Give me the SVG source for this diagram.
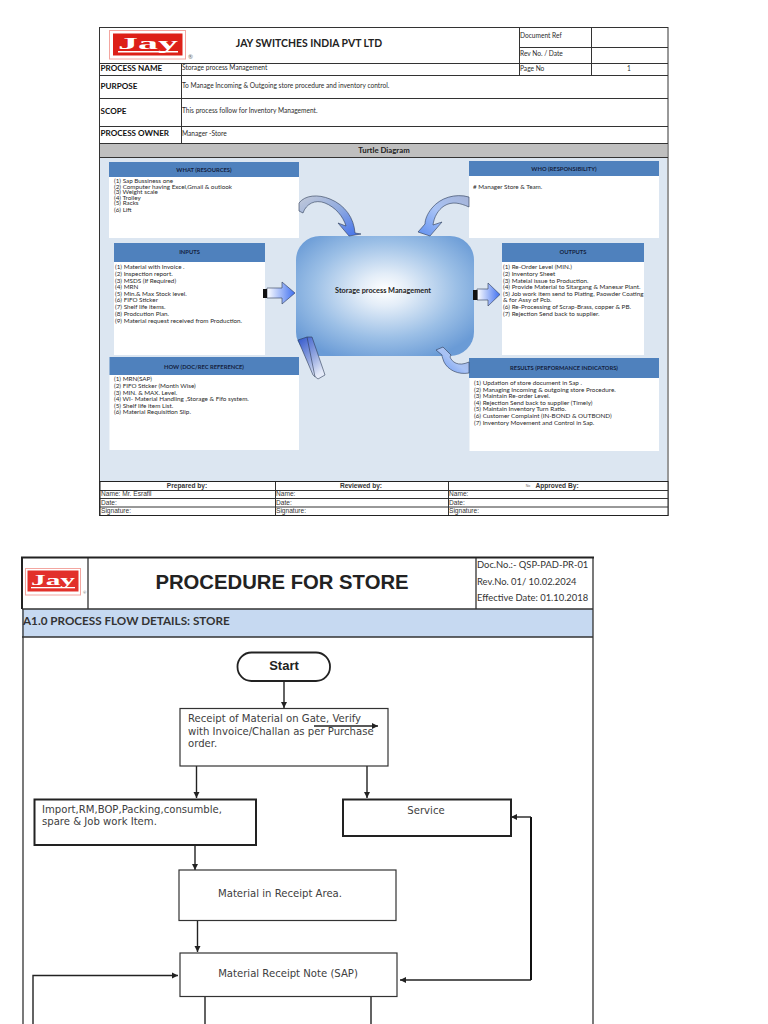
<svg xmlns="http://www.w3.org/2000/svg" width="768" height="1024" viewBox="0 0 768 1024">
<style>
.c{font-family:Lato,"Open Sans",sans-serif;font-size:6.600px;fill:#2c2c2c}
.t{font-family:Lato,"Open Sans",sans-serif;font-size:6.300px;fill:#2a2a2a}
.h{font-family:Lato,"Open Sans",sans-serif;font-size:5.800px;font-weight:700;fill:#14213d;text-anchor:middle}
.l{font-family:Lato,"Open Sans",sans-serif;font-size:8.100px;font-weight:700;fill:#111}
.s{font-family:"Liberation Sans",Arial,sans-serif;font-size:6.600px;fill:#333}
.sb{font-family:"Liberation Sans",Arial,sans-serif;font-size:6.600px;font-weight:700;fill:#333;text-anchor:middle}
.f{font-family:"DejaVu Sans",Verdana,sans-serif;font-size:10.100px;fill:#404040}
.fm{text-anchor:middle}
.d{font-family:Lato,"Open Sans",sans-serif;font-size:9.400px;fill:#333}
.hd{fill:#4f81bd}
.bd{fill:#fff}
.g{fill:none;stroke:#333;stroke-width:1}
.k{fill:none;stroke:#222;stroke-width:1.400}
.b{fill:#fff;stroke:#333;stroke-width:1.200}
.bt{fill:#fff;stroke:#222;stroke-width:2}
.a{fill:none;stroke:#222;stroke-width:1.400;marker-end:url(#ah)}
.lg{font-family:"Liberation Serif",serif;font-weight:700;fill:#fff;text-anchor:middle}
.cv{stroke:#2b3a55;stroke-width:.6}
</style>
<defs>
<marker id="ah" markerUnits="userSpaceOnUse" markerWidth="7" markerHeight="7" refX="6" refY="3.500" orient="auto"><path d="M0 .5L6 3.500L0 6.500Z" fill="#222"/></marker>
<radialGradient id="core" cx=".5" cy=".45" r=".62"><stop offset="0" stop-color="#fff"/><stop offset=".22" stop-color="#e3edf8"/><stop offset=".65" stop-color="#9bbfe6"/><stop offset="1" stop-color="#6a9bd6"/></radialGradient>
<linearGradient id="c1" x1="0" y1="0" x2="1" y2="1"><stop offset="0" stop-color="#c3cad8"/><stop offset=".5" stop-color="#8ea9e0"/><stop offset="1" stop-color="#3f6fec"/></linearGradient>
<linearGradient id="c2" x1="1" y1="0" x2="0" y2="1"><stop offset="0" stop-color="#a5b3d6"/><stop offset=".5" stop-color="#a9c3f5"/><stop offset="1" stop-color="#5f8ff0"/></linearGradient>
<linearGradient id="c3" x1="0" y1="0" x2=".6" y2="1"><stop offset="0" stop-color="#2f55cc"/><stop offset=".6" stop-color="#96a9e0"/><stop offset="1" stop-color="#e4eaf8"/></linearGradient>
<linearGradient id="st" x1="0" y1="0" x2="1" y2="0"><stop offset="0" stop-color="#fff"/><stop offset="1" stop-color="#3f70f0"/></linearGradient>
</defs>

<g id="turtle-background"><rect x="100" y="157" width="567" height="324" fill="#dce6f1"/></g>
<g id="title-bar"><rect x="100" y="143" width="567" height="14" fill="#bfbfbf"/><text x="384" y="153" font-family="Lato,sans-serif" font-size="7.800" font-weight="700" fill="#222" text-anchor="middle">Turtle Diagram</text></g>

<g id="form-grid">
<rect x="99.500" y="27.500" width="568.500" height="488" class="g" fill="none"/>
<path class="g" d="M100 63.500H668M100 75.500H668M100 98.500H668M100 126.500H668M100 143.500H668M100 157.500H668M519.500 28V75M591.500 28V75M519.500 47.500H668M181.500 64V143"/>
</g>

<g id="logo-top">
<rect x="109.500" y="30.500" width="76" height="28.500" fill="#fff" stroke="#f3a6a0"/>
<rect x="113" y="33.500" width="69.500" height="22" fill="#dd2018"/>
<text class="lg" x="148" y="49" font-size="17" textLength="60" lengthAdjust="spacingAndGlyphs">Jay</text>
<rect x="118" y="51" width="60" height="1.500" fill="#fff"/>
<text x="188" y="59" font-family="Lato,sans-serif" font-size="6" fill="#666">®</text>
</g>
<g id="form-header">
<text x="309" y="47" font-family="Lato,sans-serif" font-size="10.400" font-weight="700" fill="#222" text-anchor="middle">JAY SWITCHES INDIA PVT LTD</text>
<text class="c" x="520" y="38">Document  Ref</text>
<text class="c" x="520" y="55.500">Rev No. / Date</text>
<text class="c" x="520" y="70.500">Page No</text>
<text class="c" x="629" y="70.500" text-anchor="middle">1</text>
<text class="l" x="100.500" y="70.500">PROCESS NAME</text>
<text class="l" x="100.500" y="89">PURPOSE</text>
<text class="l" x="100.500" y="114">SCOPE</text>
<text class="l" x="100.500" y="136">PROCESS OWNER</text>
<text class="c" x="182" y="69.500">Storage process Management</text>
<text class="c" x="182" y="88">To Manage Incoming &amp; Outgoing store procedure and inventory control.</text>
<text class="c" x="182" y="113">This process follow for Inventory Management.</text>
<text class="c" x="182" y="136">Manager -Store</text>
</g>

<g id="node-what">
<rect class="bd" x="109" y="177" width="190" height="61"/><rect class="hd" x="109" y="162" width="190" height="15"/>
<text class="h" x="204" y="171.500">WHAT (RESOURCES)</text>
<text class="t" x="114" y="183">(1) Sap Bussiness one</text>
<text class="t" x="114" y="188.500">(2) Computer having  Excel,Gmail &amp; outlook</text>
<text class="t" x="114" y="193.500">(3) Weight scale</text>
<text class="t" x="114" y="199.500">(4) Trolley</text>
<text class="t" x="114" y="205">(5) Racks</text>
<text class="t" x="114" y="211.500">(6) Lift</text>
</g>
<g id="node-who">
<rect class="bd" x="469" y="176" width="190" height="62"/><rect class="hd" x="469" y="161" width="190" height="15"/>
<text class="h" x="564" y="170.500">WHO (RESPONSIBILITY)</text>
<text class="t" x="473" y="189"># Manager Store &amp; Team.</text>
</g>
<g id="node-inputs">
<rect class="bd" x="114" y="262" width="151" height="93"/><rect class="hd" x="114" y="243" width="151" height="19"/>
<text class="h" x="189.500" y="253.500">INPUTS</text>
<text class="t" x="115" y="269">(1) Material with Invoice .</text>
<text class="t" x="115" y="276">(2) Inspection report.</text>
<text class="t" x="115" y="283">(3) MSDS (If Required)</text>
<text class="t" x="115" y="289">(4) MRN</text>
<text class="t" x="115" y="296">(5) Min.&amp; Max Stock level.</text>
<text class="t" x="115" y="302">(6) FIFO Sticker</text>
<text class="t" x="115" y="309">(7) Shelf life items.</text>
<text class="t" x="115" y="316">(8) Prodcution Plan.</text>
<text class="t" x="115" y="322.500">(9) Material request received from Production.</text>
</g>
<g id="node-outputs">
<rect class="bd" x="502" y="262" width="142" height="93"/><rect class="hd" x="502" y="243" width="142" height="19"/>
<text class="h" x="573" y="253.500">OUTPUTS</text>
<text class="t" x="503" y="269">(1) Re-Order Level (MIN.)</text>
<text class="t" x="503" y="276">(2) Inventory Sheet</text>
<text class="t" x="503" y="283">(3) Mateial issue to Production.</text>
<text class="t" x="503" y="289">(4) Provide Material to  Sitargang &amp; Manesar Plant.</text>
<text class="t" x="503" y="296">(5) Job work item send to Plating, Paowder Coating</text>
<text class="t" x="503" y="302">&amp;  for Assy of Pcb.</text>
<text class="t" x="503" y="309">(6) Re-Processing of  Scrap-Brass, copper &amp; PB.</text>
<text class="t" x="503" y="315.500">(7) Rejection Send back to supplier.</text>
</g>
<g id="node-how">
<rect class="bd" x="109.500" y="375" width="189.500" height="75"/><rect class="hd" x="109.500" y="357" width="189.500" height="18"/>
<text class="h" x="204" y="368.500">HOW (DOC/REC REFERENCE)</text>
<text class="t" x="114" y="380.500">(1) MRN(SAP)</text>
<text class="t" x="114" y="387.500">(2) FIFO Sticker (Month Wise)</text>
<text class="t" x="114" y="395">(3) MIN. &amp; MAX. Level.</text>
<text class="t" x="114" y="400.500">(4) WI- Material Handling ,Storage &amp; Fifo system.</text>
<text class="t" x="114" y="407.500">(5) Shelf life item  List.</text>
<text class="t" x="114" y="414">(6) Material Requisition Slip.</text>
</g>
<g id="node-results">
<rect class="bd" x="469.500" y="378" width="189.500" height="73"/><rect class="hd" x="469" y="358" width="190" height="20"/>
<text class="h" x="564" y="369.500">RESULTS (PERFORMANCE INDICATORS)</text>
<text class="t" x="474" y="385">(1) Updation of  store document in Sap .</text>
<text class="t" x="474" y="392">(2) Managing Incoming &amp; outgoing store  Procedure.</text>
<text class="t" x="474" y="397.500">(3) Maintain Re-order  Level.</text>
<text class="t" x="474" y="405">(4) Rejection Send back to supplier  (Timely)</text>
<text class="t" x="474" y="411">(5) Maintain Inventory Turn Ratio.</text>
<text class="t" x="474" y="418">(6) Customer Complaint  (IN-BOND &amp; OUTBOND)</text>
<text class="t" x="474" y="425">(7) Inventory Movement and Control in Sap.</text>
</g>
<g id="node-core">
<rect x="296" y="236" width="178" height="120" rx="24" fill="url(#core)"/>
<text x="383" y="293" font-family="Lato,sans-serif" font-size="7.300" font-weight="700" fill="#222" text-anchor="middle">Storage process Management</text>
</g>

<g id="turtle-connectors">
<path class="cv" fill="url(#c1)" d="M299 203C305 195 318 194 330 199C345 205 354 218 355 233L361 234L349 236L338 223L346 226C343 216 335 207 325 203C315 199 306 204 303 213L299 211Z"/>
<path class="cv" fill="url(#c2)" d="M469 197C455 193 440 198 432 208C427 214 425 220 425 224L418 232L430 236L442 222L433 225C434 217 438 210 444 206C452 201 460 203 469 207Z"/>
<path class="cv" fill="url(#c2)" d="M469 373C458 375 448 370 444 362C443 359 442 357 442 355L436 350L443 347L451 355L450 357C452 362 458 367 469 362Z"/>
<path class="cv" fill="url(#c3)" d="M298 340L307 337L312 337L325 375L318 379L313 375Z"/>
<path class="cv" fill="none" d="M307 337L315 377"/>
<path class="cv" fill="url(#st)" d="M267 288H282V282L295 293L282 304V298H267Z"/>
<rect x="263" y="289" width="4" height="9" fill="#111"/>
<path class="cv" fill="url(#st)" d="M477 289H488V283L500 294.500L488 306V300H477Z"/>
<rect x="473" y="290" width="4.500" height="10" fill="#111"/>
</g>

<g id="signoff-table">
<rect x="100" y="481.500" width="568" height="34" fill="#fff" stroke="#222"/>
<path class="g" d="M100 490.500H668M100 498.500H668M100 507H668M275.500 482V515M448.500 482V515"/>
<text class="sb" x="187" y="487.500">Prepared by:</text>
<text class="sb" x="361" y="487.500">Reviewed by:</text>
<text class="sb" x="557" y="487.500">Approved By:</text>
<text x="528" y="486.500" font-family="Liberation Sans,sans-serif" font-size="3.500" fill="#666" text-anchor="middle">No</text>
<text class="s" x="101" y="496">Name: Mr. Esrafil</text><text class="s" x="101" y="504.500">Date:</text><text class="s" x="101" y="512.500">Signature:</text>
<text class="s" x="276" y="496">Name:</text><text class="s" x="276" y="504.500">Date:</text><text class="s" x="276" y="512.500">Signature:</text>
<text class="s" x="449" y="496">Name:</text><text class="s" x="449" y="504.500">Date:</text><text class="s" x="449" y="512.500">Signature:</text>
</g>

<g id="procedure-frame">
<rect x="22" y="609" width="571" height="28" fill="#c6d9f1"/>
<path fill="none" stroke="#333" stroke-width="1.300" d="M23 609V1024M593 557V1024M22 609H593M22 637H593M88 557V609M476 557V609"/>
<path fill="none" stroke="#222" stroke-width="2" d="M22 609V557.500H594"/>
<text x="282" y="589" font-family="Liberation Sans,Arial,sans-serif" font-size="20.300" font-weight="700" fill="#222" text-anchor="middle">PROCEDURE FOR STORE</text>
<text x="23" y="625" font-family="Lato,sans-serif" font-size="11.700" font-weight="700" fill="#333">A1.0 PROCESS FLOW DETAILS: STORE</text>
<text class="d" x="477" y="568">Doc.No.:- QSP-PAD-PR-01</text>
<text class="d" x="477" y="585">Rev.No. 01/ 10.02.2024</text>
<text class="d" x="477" y="601">Effective Date: 01.10.2018</text>
</g>
<g id="logo-bottom">
<rect x="25.500" y="568.500" width="55" height="26.500" fill="#fff" stroke="#f3a6a0"/>
<rect x="27.500" y="570.500" width="51" height="21" fill="#e2302a"/>
<text class="lg" x="53" y="585" font-size="14" textLength="44" lengthAdjust="spacingAndGlyphs">Jay</text>
<rect x="31" y="587" width="44" height="1.300" fill="#fff"/>
<text x="83" y="594" font-family="Lato,sans-serif" font-size="4" fill="#666">®</text>
</g>

<g id="flow-connectors">
<path class="a" d="M284 681V708"/>
<path class="a" d="M196.500 766V798"/>
<path class="a" d="M367 766V798"/>
<path class="a" d="M195 845V870"/>
<path class="a" d="M197.500 921V952"/>
<path class="a" d="M33 1024V975.500H178"/>
<path class="k" d="M205 997V1024M371 997V1024"/>
<path class="a" d="M531 980H400"/>
<path fill="none" stroke="#111" stroke-width="2" d="M531 980V817"/>
<path class="a" d="M531 817H511"/>
</g>

<g id="flow-start"><rect x="237.500" y="652.500" width="92.500" height="28.500" rx="14" fill="#fff" stroke="#222" stroke-width="1.800"/><text x="284" y="670" font-family="Liberation Sans,sans-serif" font-size="13" font-weight="700" fill="#222" text-anchor="middle">Start</text></g>
<g id="flow-receipt"><rect class="b" x="180" y="708.500" width="208" height="57.500"/>
<text class="f" x="188" y="722">Receipt of Material on Gate, Verify</text>
<text class="f" x="188" y="734.500">with Invoice/Challan as per Purchase</text>
<text class="f" x="188" y="747">order.</text></g>
<g id="flow-import"><rect class="bt" x="34.500" y="799.500" width="221.500" height="45.500"/>
<text class="f" x="42" y="812.500">Import,RM,BOP,Packing,consumble,</text>
<text class="f" x="42" y="825">spare &amp; Job work Item.</text></g>
<g id="flow-service"><rect class="bt" x="343" y="799.500" width="168" height="36.500"/><text class="f fm" x="426" y="814">Service</text></g>
<g id="flow-area"><rect class="b" x="179" y="870" width="217" height="50.500" stroke-width="1.600"/><text class="f fm" x="280" y="897">Material in Receipt Area.</text></g>
<g id="flow-mrn"><rect class="b" x="180" y="953" width="217" height="43.500"/><text class="f fm" x="288" y="977">Material Receipt Note (SAP)</text></g>
<g id="flow-stray-arrow"><path class="a" d="M314 726H378"/></g>
</svg>
